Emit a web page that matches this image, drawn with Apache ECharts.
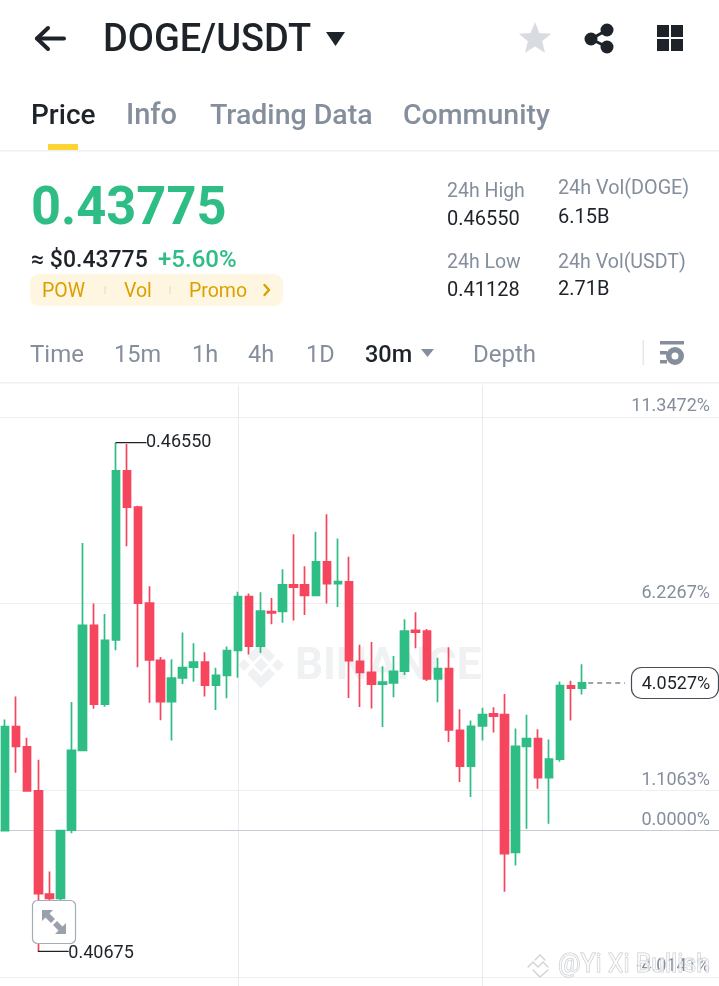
<!DOCTYPE html>
<html><head><meta charset="utf-8">
<style>html,body{margin:0;padding:0;background:#fff;overflow:hidden}#c{width:719px;height:986px}</style>
<script src="https://cdn.jsdelivr.net/npm/echarts@6/dist/echarts.min.js"></script>
</head><body><div id="c"></div>
<script>
// Percent change from the reference price, candle by candle
const opens  = [0.00,2.85,2.30,1.09,-1.74,-1.86,0.01,2.20,5.63,3.47,5.23,9.87,8.87,6.24,4.67,3.54,4.19,4.48,4.62,3.99,4.26,4.94,6.42,5.06,6.01,6.01,6.74,6.74,6.45,7.37,6.77,6.82,4.64,4.34,4.02,4.05,4.37,5.49,5.47,4.16,4.44,2.75,1.77,2.87,3.20,3.18,-0.60,2.31,2.52,1.45,1.96,3.97,3.91];
const closes = [2.85,2.31,1.09,-1.73,-1.86,0.00,2.20,5.63,3.47,5.22,9.87,8.87,6.24,4.68,3.54,4.18,4.47,4.62,3.99,4.26,4.94,6.42,5.06,6.02,5.97,6.74,6.68,6.45,7.37,6.77,6.83,4.66,4.34,4.02,4.07,4.37,5.47,5.44,4.16,4.44,2.76,1.77,2.86,3.18,3.14,-0.63,2.31,2.52,1.45,1.96,3.98,3.91,4.05];
const lows   = [-0.02,1.59,1.09,-3.31,-1.99,-1.94,-0.07,2.20,3.34,3.40,4.95,7.80,4.48,3.51,3.03,2.47,4.02,4.08,3.68,3.31,3.63,4.19,4.83,4.87,5.66,5.70,5.76,5.91,6.45,6.23,6.13,3.64,3.39,3.35,2.84,3.66,4.27,5.00,4.10,3.52,2.43,1.33,0.92,2.47,2.69,-1.68,-0.96,0.05,1.15,0.19,1.89,3.02,3.73];
const highs  = [3.05,3.68,2.55,1.94,-1.12,0.00,3.53,7.89,6.23,5.94,10.64,10.60,8.91,6.70,4.76,4.70,5.43,5.14,4.89,4.47,5.05,6.55,6.50,6.54,6.38,7.17,8.13,7.25,8.20,8.68,8.01,7.51,5.10,5.17,4.51,4.79,5.80,5.99,5.53,4.74,5.03,3.33,3.02,3.37,3.38,3.75,2.80,3.18,2.78,2.50,4.09,4.11,4.56];
const yTickValues = [11.3472,6.2267,1.1063,0,-4.0141];
const yMin = -4.2703, yMax = 12.2134;
const slotCount = 65;
const verticalGridSlots = ['21','43'];
const highLabel = '0.46550', lowLabel = '0.40675', lastLabel = '4.0527%';
const highIndex = 10, lowIndex = 3, lastIndex = 52, lastValue = 4.05;
const slots = Array.from({length: slotCount}, (_, i) => String(i));
const candles = opens.map((o, i) => [o, closes[i], lows[i], highs[i]]);

const GREEN='#2EBD85', RED='#F6465D', DARK='#1E2329', GRAY='#848E9C', ORANGE='#DBA000', FONT='Roboto, sans-serif';
const chart = echarts.init(document.getElementById('c'), null, {renderer:'canvas', width:719, height:986});

function t(x,y,text,size,fill,weight,align,sx){
  return {type:'text',z:20,x:x,y:y,scaleX:sx||1,style:{text:text,fontSize:size,fill:fill,fontWeight:weight||400,fontFamily:FONT,align:align||'left',verticalAlign:'middle'}};
}
function poly(points,fill,z,extra){
  return Object.assign({type:'polygon',z:z||20,shape:{points:points},style:{fill:fill}},extra||{});
}
function pline(points,stroke,w,z){
  return {type:'polyline',z:z||20,shape:{points:points},style:{stroke:stroke,lineWidth:w,fill:null,lineCap:'round',lineJoin:'round'}};
}
function starPts(cx,cy,R,r){
  const p=[];for(let i=0;i<10;i++){const a=-Math.PI/2+i*Math.PI/5,q=i%2?r:R;p.push([cx+q*Math.cos(a),cy+q*Math.sin(a)]);}return p;
}
function logo(cx,cy,s,fill,z){
  const P=a=>a.map(q=>[cx+q[0]*s,cy+q[1]*s]);
  return [
    poly(P([[0,-23],[14,-9],[8,-3],[0,-11],[-8,-3],[-14,-9]]),fill,z),
    poly(P([[0,23],[14,9],[8,3],[0,11],[-8,3],[-14,9]]),fill,z),
    poly(P([[-23,0],[-17,-6],[-11,0],[-17,6]]),fill,z),
    poly(P([[23,0],[17,-6],[11,0],[17,6]]),fill,z),
    poly(P([[0,-7],[7,0],[0,7],[-7,0]]),fill,z)
  ];
}

const chrome = [
  // header
  pline([[37,38.5],[64,38.5]],DARK,4),
  pline([[48,28],[37,38.5],[48,49]],DARK,4),
  t(103,41,'DOGE/USDT',38,DARK,500),
  poly([[326,32],[345,32],[335.5,46]],DARK,20,{style:{fill:DARK,lineJoin:'round'}}),
  poly(starPts(535,39,17,7.5),'#D8DCE1'),
  {type:'circle',z:20,shape:{cx:607,cy:30,r:6.5},style:{fill:DARK}},
  {type:'circle',z:20,shape:{cx:591,cy:39,r:6.5},style:{fill:DARK}},
  {type:'circle',z:20,shape:{cx:607,cy:47,r:6.5},style:{fill:DARK}},
  pline([[607,30],[591,39],[607,47]],DARK,3),
  {type:'rect',z:20,shape:{x:657,y:25,width:12,height:12},style:{fill:DARK}},
  {type:'rect',z:20,shape:{x:671,y:25,width:12,height:12},style:{fill:DARK}},
  {type:'rect',z:20,shape:{x:657,y:39,width:12,height:12},style:{fill:DARK}},
  {type:'rect',z:20,shape:{x:671,y:39,width:12,height:12},style:{fill:DARK}},
  // tabs
  t(31,117,'Price',28,DARK,500),
  t(126,117,'Info',29,GRAY,500),
  t(210,117,'Trading Data',28.5,GRAY,500),
  t(403,117,'Community',28.5,GRAY,500),
  {type:'rect',z:20,shape:{x:48,y:144,width:30,height:6},style:{fill:'#FCD535'}},
  {type:'rect',z:20,shape:{x:0,y:150,width:719,height:1.5},style:{fill:'#EEF0F2'}},
  // price block
  t(31,210,'0.43775',54,GREEN,700,'left',0.97),
  t(31,261,'≈ $0.43775',23,DARK,500),
  t(158,261,'+5.60%',24,GREEN,500),
  {type:'rect',z:20,shape:{x:30,y:274,width:253,height:32,r:9},style:{fill:'#FEF6E0'}},
  t(42,292,'POW',19.5,ORANGE),
  {type:'rect',z:20,shape:{x:104.5,y:286,width:1,height:8},style:{fill:'#EBD9A5'}},
  t(124,292,'Vol',19.5,ORANGE),
  {type:'rect',z:20,shape:{x:169.5,y:286,width:1,height:8},style:{fill:'#EBD9A5'}},
  t(189,292,'Promo',19.5,ORANGE),
  pline([[264.5,285],[269,290],[264.5,295]],ORANGE,2.4),
  t(447,192,'24h High',19.5,GRAY),
  t(447,220,'0.46550',20,DARK),
  t(558,189,'24h Vol(DOGE)',19.8,GRAY),
  t(558,218,'6.15B',20,DARK),
  t(447,263,'24h Low',19.5,GRAY),
  t(447,291,'0.41128',20,DARK),
  t(558,263,'24h Vol(USDT)',19.6,GRAY),
  t(558,290,'2.71B',20,DARK),
  // interval row
  t(30,356,'Time',24,GRAY),
  t(114,356,'15m',23.5,GRAY),
  t(192,356,'1h',23.5,GRAY),
  t(248,356,'4h',23.5,GRAY),
  t(306,356,'1D',23.5,GRAY),
  t(365,356,'30m',23.5,DARK,500),
  poly([[421,349],[434,349],[427.5,357]],GRAY),
  t(473,356,'Depth',24,GRAY),
  {type:'rect',z:20,shape:{x:642.5,y:340,width:1.5,height:25},style:{fill:'#E6E8EB'}},
  {type:'rect',z:20,shape:{x:660,y:341,width:24,height:3.5},style:{fill:GRAY}},
  {type:'rect',z:20,shape:{x:660,y:351,width:7,height:3.5},style:{fill:GRAY}},
  {type:'rect',z:20,shape:{x:660,y:360,width:7,height:3.5},style:{fill:GRAY}},
  {type:'ring',z:20,shape:{cx:675,cy:356,r:9,r0:3.5},style:{fill:GRAY}},
  {type:'rect',z:20,shape:{x:0,y:382,width:719,height:1.5},style:{fill:'#EEF0F2'}},
  // watermark behind the candles
  ...logo(261,665,1,'#EFF1F2',1),
  {type:'text',z:1,x:295,y:668,style:{text:'BINANCE',fontSize:44,fontWeight:700,fill:'#EFF1F2',fontFamily:FONT,verticalAlign:'middle'}},
  // expand button
  {type:'rect',z:20,shape:{x:32.5,y:900.5,width:43,height:43,r:5},style:{fill:'#fff',stroke:'#A6ACB5',lineWidth:1.2}},
  poly([[42,910],[53,910],[49.5,913.5],[55,919],[51,923],[45.5,917.5],[42,921]],'#9AA1AB'),
  poly([[66,934],[55,934],[58.5,930.5],[53,925],[57,921],[62.5,926.5],[66,923]],'#9AA1AB'),
  // author watermark
  pline([[528,967],[533,962],[538,967],[543,962],[548,967]],'#CFD2D6',1.4),
  pline([[533,970],[540,977],[548,970]],'#CFD2D6',1.4),
  pline([[535,960],[540,955],[545,960]],'#CFD2D6',1.4),
  {type:'text',z:21,x:558,y:966,style:{text:'@Yi Xi Bullish',fontSize:25,fontFamily:FONT,fill:'rgba(255,255,255,0.65)',stroke:'#C6C9CE',lineWidth:1,verticalAlign:'middle'}}
];

chart.setOption({
  animation:false,
  backgroundColor:'#fff',
  grid:{left:-0.55,width:721.5,top:385.3,bottom:-0.3,containLabel:false,outerBoundsMode:'none'},
  xAxis:{type:'category',data:slots,boundaryGap:true,show:false},
  yAxis:{type:'value',position:'right',min:yMin,max:yMax,
    axisLine:{show:false},
    axisTick:{show:false,customValues:yTickValues},
    splitLine:{show:true,lineStyle:{color:'#EEF0F2',width:1.2}},
    axisLabel:{inside:true,margin:11,customValues:yTickValues,color:GRAY,fontSize:18,fontFamily:FONT,verticalAlign:'bottom',lineHeight:20,
      formatter:v=>v.toFixed(4)+'%'}
  },
  series:[{
    type:'candlestick',data:candles,barWidth:8,z:2,
    itemStyle:{color:GREEN,color0:RED,borderColor:GREEN,borderColor0:RED,borderWidth:1.7},
    markLine:{silent:true,symbol:'none',z:1,label:{show:false},animation:false,
      data:[
        ...verticalGridSlots.map(s=>({xAxis:s,lineStyle:{color:'#E8EBF0',width:1,type:'solid'}})),
        {yAxis:0,lineStyle:{color:'#C6CBD6',width:1.2,type:'solid'}}
      ]}
  }],
  graphic:{elements:chrome}
});

// annotations that hang on the data
const px=(i,v)=>chart.convertToPixel({xAxisIndex:0,yAxisIndex:0},[String(i),v]);
const hi=px(highIndex,highs[highIndex]), lo=px(lowIndex,lows[lowIndex]), la=px(lastIndex,lastValue);
chart.setOption({graphic:{elements:chrome.concat([
  pline([[hi[0],hi[1]],[hi[0]+30,hi[1]]],DARK,1.2,15),
  t(hi[0]+30,hi[1],highLabel,18,DARK),
  pline([[lo[0],lo[1]],[lo[0]+30,lo[1]]],DARK,1.2,15),
  t(lo[0]+30,lo[1]+2,lowLabel,18,DARK),
  {type:'line',z:15,shape:{x1:la[0]+6,y1:la[1],x2:625,y2:la[1]},style:{stroke:'#7E858F',lineWidth:1.5,lineDash:[5,4]}},
  {type:'rect',z:20,shape:{x:631.5,y:667.5,width:87,height:31,r:10},style:{fill:'#fff',stroke:'#474D57',lineWidth:1.2}},
  t(676,684,lastLabel,18,DARK,400,'center')
])}});
</script></body></html>
